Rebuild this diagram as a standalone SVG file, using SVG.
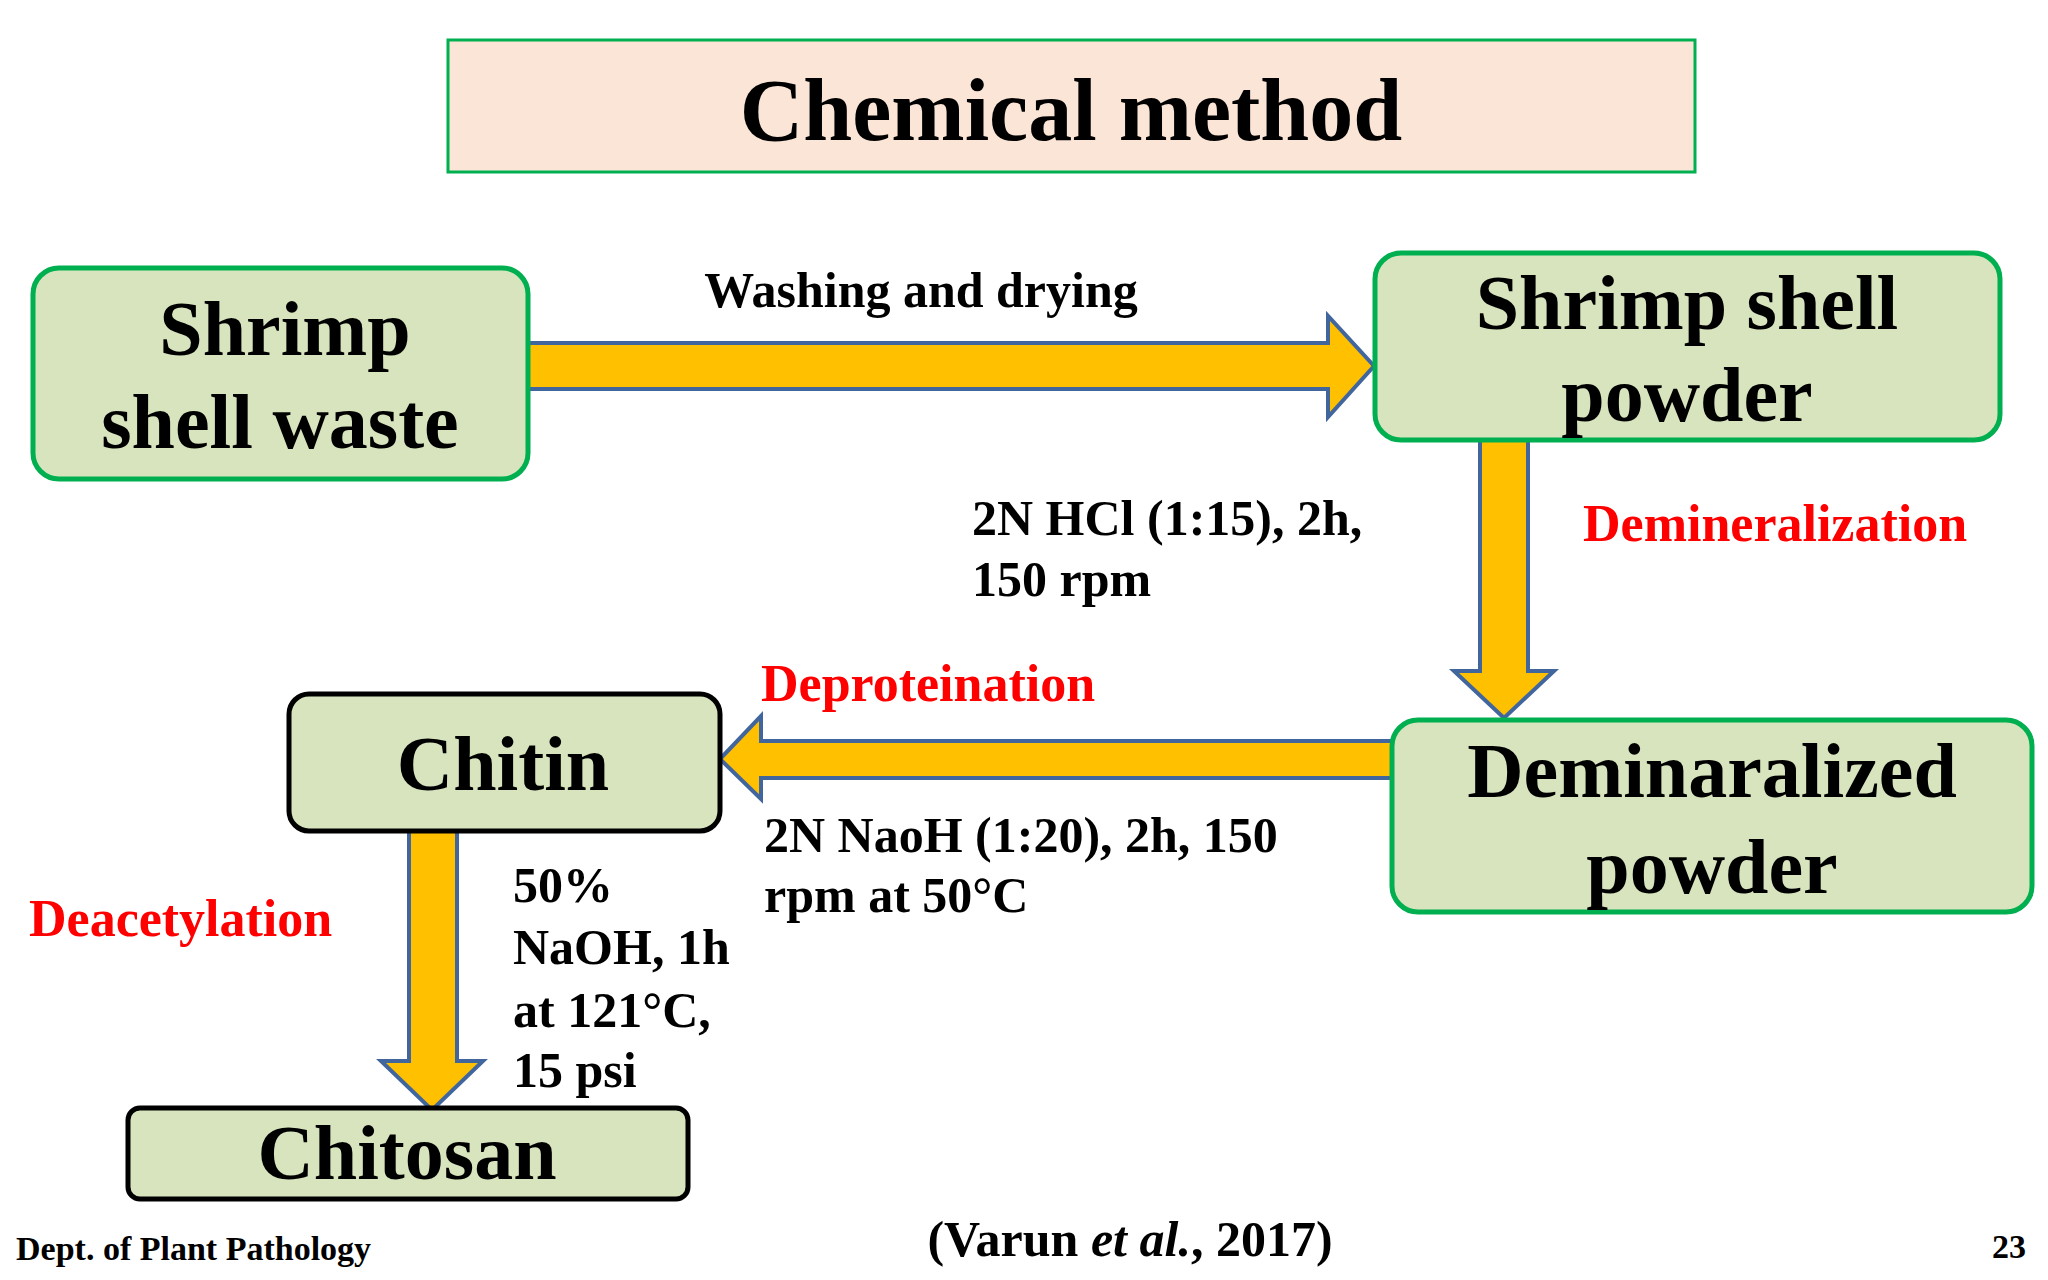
<svg xmlns="http://www.w3.org/2000/svg" width="2048" height="1280" viewBox="0 0 2048 1280">
<style>
text{font-family:"Liberation Serif","Times New Roman",serif;font-weight:bold;fill:#000}
.n{fill:#d7e4bd;stroke:#00b050;stroke-width:5}
.k{fill:#d7e4bd;stroke:#000;stroke-width:5}
.big{font-size:78px;text-anchor:middle}
.lab{font-size:50px}
.red{fill:#ff0000;font-size:52px}
.ar{fill:#ffc000;stroke:#41669e;stroke-width:4;stroke-linejoin:miter}
</style>
<rect width="2048" height="1280" fill="#fff"/>
<g id="title"><rect x="448" y="40" width="1247" height="132" fill="#fbe5d6" stroke="#00b050" stroke-width="3"/>
<text x="1071" y="140" font-size="88" text-anchor="middle">Chemical method</text></g>
<g id="connectors">
<path class="ar" d="M528 343H1328V316L1374 366L1328 417V389H528Z"/>
<path class="ar" d="M1480 440H1528V671H1554L1504 718L1454 671H1480Z"/>
<path class="ar" d="M1392 741H761V716L720 759L761 799V778H1392Z"/>
<path class="ar" d="M409 831H457V1061H483L432 1110L381 1061H409Z"/>
</g>
<g id="n1"><rect class="n" x="33" y="268" width="495" height="211" rx="26"/>
<text class="big" x="285" y="355">Shrimp</text><text class="big" x="280" y="448">shell waste</text></g>
<g id="n2"><rect class="n" x="1375" y="253" width="625" height="187" rx="26"/>
<text class="big" x="1687" y="329">Shrimp shell</text><text class="big" x="1687" y="421">powder</text></g>
<g id="n3"><rect class="n" x="1392" y="720" width="640" height="192" rx="26"/>
<text class="big" x="1712" y="797">Deminaralized</text><text class="big" x="1712" y="893">powder</text></g>
<g id="n4"><rect class="k" x="289" y="694" width="431" height="137" rx="20"/>
<text class="big" x="503" y="790">Chitin</text></g>
<g id="n5"><rect class="k" x="128" y="1108" width="560" height="91" rx="12"/>
<text class="big" x="407" y="1179">Chitosan</text></g>
<g id="labels">
<text class="lab" x="921" y="307" text-anchor="middle">Washing and drying</text>
<text class="red" x="1583" y="541">Demineralization</text>
<text class="lab" x="972" y="535">2N HCl (1:15), 2h,</text>
<text class="lab" x="972" y="596">150 rpm</text>
<text class="red" x="761" y="701">Deproteination</text>
<text class="lab" x="764" y="852">2N NaoH (1:20), 2h, 150</text>
<text class="lab" x="764" y="912">rpm at 50°C</text>
<text class="red" x="29" y="936">Deacetylation</text>
<text class="lab" x="513" y="902">50%</text>
<text class="lab" x="513" y="964">NaOH, 1h</text>
<text class="lab" x="513" y="1027">at 121°C,</text>
<text class="lab" x="513" y="1087">15 psi</text>
<text x="16" y="1260" font-size="34">Dept. of Plant Pathology</text>
<text x="1130" y="1256" font-size="50" text-anchor="middle">(Varun <tspan font-style="italic">et al.</tspan>, 2017)</text>
<text x="2026" y="1258" font-size="34" text-anchor="end">23</text>
</g>
</svg>
